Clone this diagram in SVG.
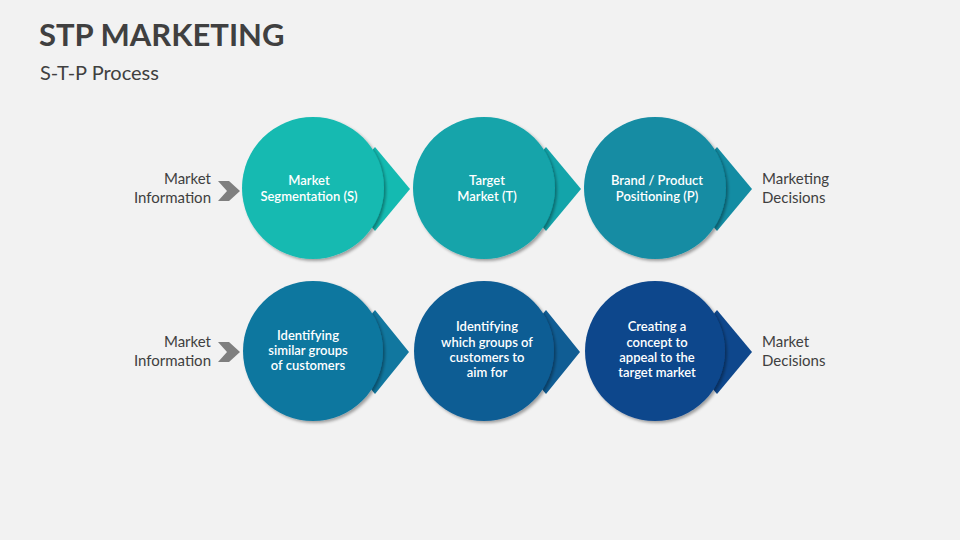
<svg xmlns="http://www.w3.org/2000/svg" width="960" height="540" viewBox="0 0 960 540">
<defs>
<filter id="sh" x="-20%" y="-20%" width="140%" height="140%">
<feDropShadow dx="2" dy="2" stdDeviation="1.8" flood-color="#000" flood-opacity="0.35"/>
</filter>
<style>
.title{font-family:Lato,"Open Sans",sans-serif;font-weight:bold;font-size:31px;fill:#404040}
.sub{font-family:Lato,"Open Sans",sans-serif;font-size:20px;fill:#404040}
.lbl{font-family:Lato,"Open Sans",sans-serif;font-size:15px;fill:#404040}
.ct{font-family:Lato,"Open Sans",sans-serif;font-size:13px;font-weight:600;fill:#ffffff;text-anchor:middle}
.chev{fill:#7f7f7f}
.circ{filter:url(#sh)}
</style>
</defs>
<rect width="960" height="540" fill="#f2f2f2"/>
<text class="title" x="39" y="46">STP MARKETING</text>
<text class="sub" x="40" y="80">S-T-P Process</text>

<g id="connectors">
<polygon class="chev" points="218,181 229,181 240,191 229,201 218,201 227,191"/>
<polygon class="chev" points="218,342 229,342 240,352 229,362 218,362 227,352"/>
</g>

<g id="in1">
<text class="lbl" text-anchor="end" x="211" y="184">Market</text>
<text class="lbl" text-anchor="end" x="211" y="203">Information</text>
</g>
<g id="in2">
<text class="lbl" text-anchor="end" x="211" y="347">Market</text>
<text class="lbl" text-anchor="end" x="211" y="366">Information</text>
</g>

<g id="s">
<polygon points="375,147 410,189 375,231 340,189" fill="#14bab1"/>
<circle class="circ" cx="313" cy="188" r="71" fill="#14bab1"/>
<text class="ct" x="309" y="185">Market</text>
<text class="ct" x="309" y="201">Segmentation (S)</text>
</g>
<g id="t">
<polygon points="546,147 581,189 546,231 511,189" fill="#13a4aa"/>
<circle class="circ" cx="484" cy="188" r="71" fill="#13a4aa"/>
<text class="ct" x="487" y="185">Target</text>
<text class="ct" x="487" y="201">Market (T)</text>
</g>
<g id="p">
<polygon points="717,147 752,189 717,231 682,189" fill="#138ca3"/>
<circle class="circ" cx="655" cy="188" r="71" fill="#138ca3"/>
<text class="ct" x="657" y="185">Brand / Product</text>
<text class="ct" x="657" y="201">Positioning (P)</text>
</g>
<g id="out1">
<text class="lbl" x="762" y="184">Marketing</text>
<text class="lbl" x="762" y="203">Decisions</text>
</g>

<g id="s2">
<polygon points="375,310 409,352 375,394 340,352" fill="#11779f"/>
<circle class="circ" cx="313" cy="351" r="70" fill="#11779f"/>
<text class="ct" x="308" y="340">Identifying</text>
<text class="ct" x="308" y="355">similar groups</text>
<text class="ct" x="308" y="370">of customers</text>
</g>
<g id="t2">
<polygon points="546,310 580,352 546,394 511,352" fill="#105d94"/>
<circle class="circ" cx="484" cy="351" r="70" fill="#105d94"/>
<text class="ct" x="487" y="331">Identifying</text>
<text class="ct" x="487" y="347">which groups of</text>
<text class="ct" x="487" y="362">customers to</text>
<text class="ct" x="487" y="377">aim for</text>
</g>
<g id="p2">
<polygon points="717,310 752,352 717,394 682,352" fill="#0e478c"/>
<circle class="circ" cx="655" cy="351" r="70" fill="#0e478c"/>
<text class="ct" x="657" y="331">Creating a</text>
<text class="ct" x="657" y="347">concept to</text>
<text class="ct" x="657" y="362">appeal to the</text>
<text class="ct" x="657" y="377">target market</text>
</g>
<g id="out2">
<text class="lbl" x="762" y="347">Market</text>
<text class="lbl" x="762" y="366">Decisions</text>
</g>
</svg>
